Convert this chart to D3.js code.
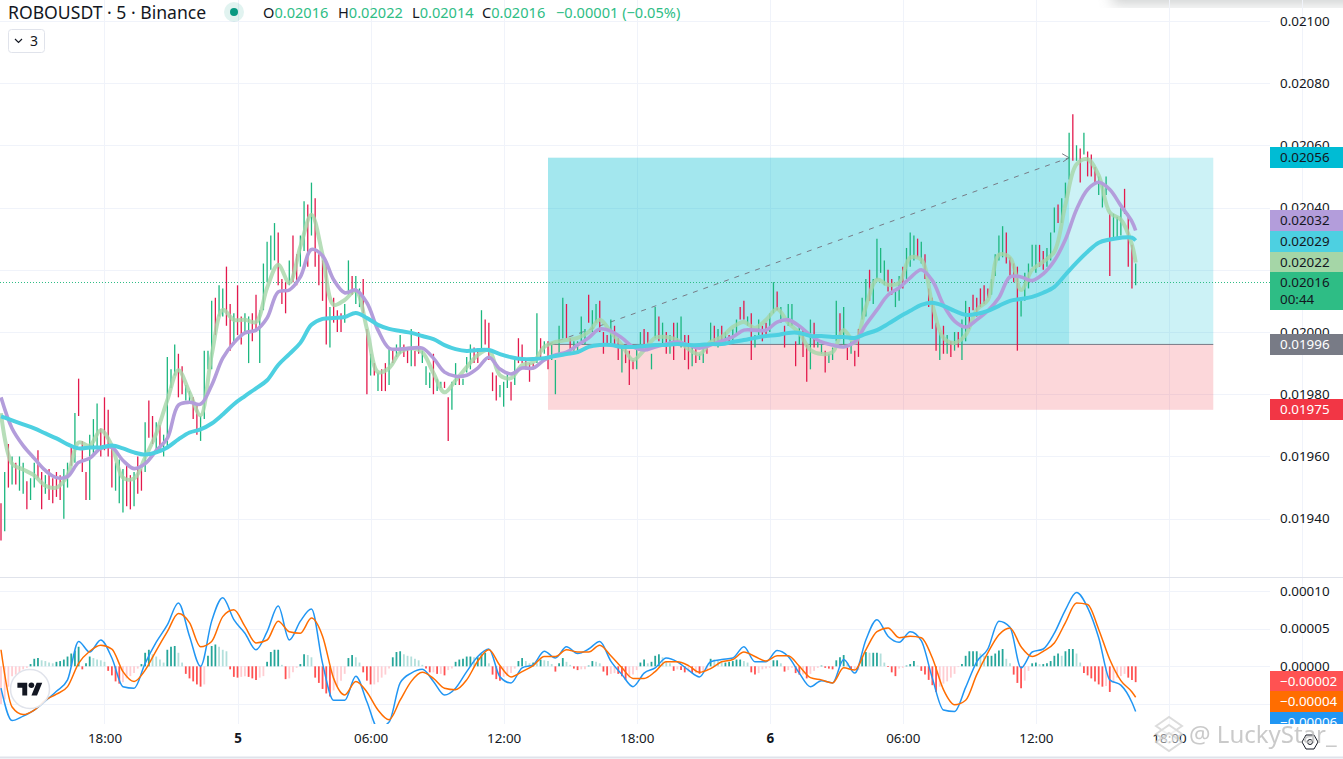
<!DOCTYPE html>
<html>
<head>
<meta charset="utf-8">
<script src="https://cdn.jsdelivr.net/npm/d3@7"></script>
<style>
html,body{margin:0;padding:0;background:#fff;overflow:hidden}
text{font-family:"Noto Sans","Liberation Sans",sans-serif}
</style>
</head>
<body>
<script>
// prices are kept in ticks of 0.00001, macd values too
// one candle every 2 bars
var highs = [
1945,1955,1964,1960,1958,1960,1958,1952,1953,1958,
1962,1955,1954,1956,1953,1955,1954,1956,1958,1963,
1974,1985,1965,1955,1967,1972,1977,1969,1979,1975,
1964,1958,1959,1956,1958,1954,1955,1960,1956,1971,
1978,1973,1971,1970,1967,1992,1988,1996,1993,1989,
1983,1981,1979,1977,1973,1994,1994,2010,2011,2015,
2014,2021,2009,2006,2015,2005,2006,2005,2006,2012,
2007,2022,2029,2031,2035,2032,2017,2016,2023,2031,
2025,2031,2042,2041,2048,2043,2025,2023,2022,2008,
2011,2007,2006,2009,2023,2018,2018,2014,2017,2001,
1993,1990,1987,1988,1990,1995,1994,1996,1999,1996,
1995,2001,1994,2000,1994,1989,1987,1993,1985,1984,
1984,1979,1984,1990,1986,1985,1992,1996,1995,1994,
2007,2004,2003,1987,1986,1983,1984,1987,1984,1992,
1998,1996,1991,1990,1990,2006,1998,1997,1997,1996,
1991,2002,2011,2009,1998,1997,1997,2005,2001,2012,
2007,2009,2010,2000,1999,2004,2002,1998,1995,1995,
1994,1991,1995,2000,2001,2000,1993,2008,2005,2003,
2000,1999,2003,2003,2005,1999,1999,1995,1995,1993,
1995,1996,2003,2002,2001,2002,2000,1999,2001,2004,
2008,2010,2005,2006,1999,2004,2002,2003,2006,2016,
2013,2008,2002,2009,2009,1997,2002,2001,1996,2004,
2003,1997,1996,1994,1993,1995,2010,2006,2008,1996,
1997,1994,2001,2011,2017,2020,2017,2030,2027,2023,
2020,2017,2013,2018,2021,2027,2032,2031,2030,2029,
2025,2014,2011,2003,2000,2002,1999,1997,2000,2000,
2004,2010,2008,2012,2011,2014,2015,2014,2017,2025,
2031,2034,2032,2024,2022,2021,2011,2019,2022,2028,
2028,2028,2026,2027,2032,2040,2041,2043,2048,2064,
2070,2060,2059,2064,2058,2057,2053,2050,2048,2050,
2038,2038,2037,2040,2046,2038,2028,2022];
var lows = [
1933,1936,1950,1951,1951,1949,1948,1943,1946,1950,
1953,1943,1948,1946,1945,1947,1946,1940,1950,1957,
1958,1973,1955,1946,1946,1960,1963,1960,1962,1960,
1950,1949,1945,1942,1944,1943,1944,1948,1949,1955,
1966,1964,1961,1962,1960,1963,1982,1986,1979,1980,
1978,1977,1972,1967,1965,1972,1988,1988,1999,2005,
2005,2002,1994,1996,1999,1996,2000,1990,1997,2000,
1990,2007,2016,2020,2023,2015,2009,2006,2015,2016,
2015,2021,2026,2021,2031,2021,2015,2010,1996,1995,
2003,2000,2000,2003,2012,2012,2009,2008,2006,1980,
1986,1986,1981,1981,1981,1983,1990,1992,1993,1992,
1990,1989,1989,1993,1990,1983,1982,1980,1981,1982,
1982,1965,1975,1983,1983,1983,1987,1988,1990,1990,
1994,1996,1991,1981,1978,1979,1976,1982,1978,1983,
1990,1990,1988,1984,1988,1990,1992,1993,1988,1991,
1980,1993,1998,1998,1993,1994,1993,1997,1996,2003,
2000,2003,2000,1993,1996,1996,1996,1991,1987,1990,
1983,1988,1988,1994,1996,1995,1988,1998,1997,1996,
1993,1993,1991,1997,1995,1991,1988,1989,1990,1991,
1990,1993,1997,1996,1995,1996,1997,1996,1997,1999,
2004,2004,2002,1991,1995,1999,1997,1999,2000,2006,
2007,2003,1995,2002,2002,1989,1996,1992,1984,1988,
1995,1995,1993,1987,1990,1991,1997,1999,1996,1991,
1993,1989,1992,2004,2005,2010,2009,2017,2019,2015,
2013,2012,2008,2010,2014,2017,2021,2023,2024,2022,
2017,2008,2001,1994,1991,1993,1993,1992,1994,1995,
1991,1997,2001,2007,2005,2008,2009,2011,2012,2018,
2023,2024,2022,2018,2016,1994,2005,2010,2014,2021,
2019,2021,2020,2021,2023,2032,2035,2035,2043,2049,
2055,2055,2048,2057,2050,2050,2048,2044,2040,2044,
2018,2030,2030,2031,2038,2021,2014,2015];
var dirs = "RGRGRGGRGG"+"RRGRRRRGGR"+"GRRRGGGRRR"+"RGGGRRGRRG"+"RRGRGGGGRR"+"GGRRGGGGRG"+
	"GRRGRRGGRR"+"GGGGGRRRGR"+"RGGRGRRRRG"+"RRRGGRGGRR"+"GRGRRGRGGR"+"RGRRGGGRGG"+
	"RRGGRGGGRR"+"GRRRRGGGRG"+"RRRRRGRGRG"+"GGGRRGGGGR"+"GGRRRGRRGR"+"RRGGRRGGRG"+
	"RGRGGRRGRG"+"GRGRGRGRGG"+"RRGRGGRRGG"+"RGRGGRGRRG"+"RGGRGGGRGR"+"GRRGGRGGGG"+
	"RRGGRGGGRG"+"RRRRGRGRGR"+"GGRRRRRRGG"+"GGRRRRGGGG"+"GRRGGGRGGG"+"RGRGRRRGGG"+"RGGGRRRG";

// moving averages, one point every 6 bars, the last one is the live bar
var maFast = [
1973.9,1957.7,1955.8,1953.9,1950.6,1950,1953.9,1964.5,1963.5,1968.4,1963.5,1953.2,1952.9,1959.7,1967.4,1978.1,
1987.7,1980.6,1973.2,1992.6,2007.1,2003.9,2003.9,2003.2,2014.2,2021.6,2015.8,2027.4,2037.7,2024.8,2008.7,2010.3,
2013.2,2001,1987.1,1988.4,1993.5,1994.8,1993.5,1986.8,1980.6,1984.5,1988.7,1992.6,1994.2,1986.1,1985.2,1989.4,
1990.3,1995.2,1996.8,1997.4,1998.1,2000,2003.9,2000,1995.8,1991,1994.2,1998.1,1998.4,1997.4,
1994.5,1992.9,1996.8,1998.4,2001.6,2003.2,2001.3,2003.9,2007.4,2002.9,1999.7,1994.2,1992.9,1993.5,2000.6,1996.5,
2008.1,2016.8,2015.2,2015.8,2023.9,2023.2,2008.7,1998.1,1996.5,1999,2007.1,2010.3,2024.8,2023.9,2013.5,
2020,2022.6,2025.8,2041,2053.9,2055.5,2050.3,2038.4,2036.1,2028.1,2022.3];
var maMid = [
1979,1969,1963.5,1959.4,1955.5,1953.2,1953.5,1958.1,1959.4,1962.6,1962.9,1958.7,1956.1,1957.7,1961.9,1965.8,
1976.5,1977.4,1976.8,1982.9,1991.6,1996.5,1999.7,2000.6,2004.5,2012.9,2013.5,2017.7,2026.5,2024.5,2016.8,2012.6,
2013.5,2009.4,2000.6,1994.8,1994.5,1994.8,1994.8,1991.6,1987.1,1985.8,1986.1,1988.4,1991.9,1988.1,1986.5,1988.4,
1988.4,1991,1992.6,1993.5,1995.8,1998.1,2001,2000.3,1998.1,1995.2,1994.2,1995.2,1996.1,1996.8,
1995.8,1994.8,1995.8,1997.1,1998.4,2000.6,2000.6,2000.6,2003.2,2003.9,2001.9,1999,1996.8,1995.8,1995.2,1996.8,
2002.3,2007.1,2011.9,2014.2,2017.4,2020,2016.5,2008.7,2003.5,2001.6,2003.9,2006.8,2011,2017.7,2017.7,
2016.5,2018.7,2022.9,2029.7,2039.4,2045.8,2048.1,2045.8,2040.6,2035.5,2032.6];
var maSlow = [
1972.9,1971.6,1970.3,1969,1967.4,1965.8,1963.9,1962.6,1962.9,1962.9,1963.5,1962.6,1961.3,1960.6,1961.3,1962.9,
1965.5,1967.7,1968.7,1970.6,1973.5,1976.8,1979.4,1981.9,1984.5,1989.4,1992.9,1996.5,2002.3,2004.2,2004.5,2004.8,
2006.1,2004.5,2002.3,2001,2000.3,1999.7,1998.7,1997.7,1995.8,1994.5,1993.9,1994.2,1994.2,1992.9,1991.9,1991.3,
1991.3,1991.6,1992.3,1992.9,1993.5,1995.2,1995.8,1995.8,1995.2,1995.2,1995.5,1995.8,1995.8,1996.1,
1995.8,1995.8,1996.1,1996.1,1996.8,1997.4,1998.1,1998.7,1999,1999.7,1999.7,1998.7,1998.7,1998.4,1998.4,1998.1,
1999.4,2000.6,2002.6,2004.8,2006.8,2008.7,2009.4,2008.4,2006.8,2005.5,2005.8,2006.8,2008.4,2010,2010.6,
2011.3,2012.6,2014.5,2018.4,2022.3,2025.8,2028.7,2029.7,2030.3,2030.3,2029.4];

// macd lines on the same 6 bar steps
var macdLine = [
-2.9,-7.2,-6.6,-5.8,-4.6,-3.3,-1.8,3.3,1.9,3.5,1.1,-2.7,-2.9,.4,3.2,5.5,8.4,4,0,6,
9.1,6.2,4.4,2.2,4.6,8,3.5,6,7.6,.4,-4.5,-4.5,-1.3,-4.7,-8.2,-7.4,-2.2,-.9,-.4,-2,
-3.8,-2.9,-.7,1.3,2.3,-1.4,-2.2,-.2,.2,2,1.1,2.6,1.7,2.3,3.3,.7,-1.1,-2.7,-.9,-.2,
1.1,.6,-.5,-1.4,.6,.9,1.1,2.6,.6,.6,2.1,1.3,-.9,-2.7,-1.9,-2.2,.9,-.9,3.5,6.2,
4,3.2,4.6,3.4,-1.6,-5.8,-6,-2.8,.6,2.3,6,5.2,-.2,1.9,2.3,4.4,7.5,9.8,7.8,3.8,
-1.8,-2.5,-4.8,-6];
var signalLine = [
2.2,-5.4,-6.4,-5.8,-4.5,-3.7,-2.7,.4,2,2.8,2.3,-.7,-2,-.5,2.1,4.6,7,5.8,2.6,3.3,
6.6,7.5,5.3,3.1,3.5,6,4.6,4.4,6.4,4,-1.6,-3.8,-2,-3.4,-5.8,-7.1,-4.5,-2,-.8,-1.6,
-2.9,-3.1,-1.8,.7,2.2,.1,-1.4,-.7,.1,1.3,1.3,2.2,1.9,1.9,2.8,1.4,-.2,-1.6,-1.6,-.7,
.6,.6,.1,-.8,-.3,.6,.9,1.9,1.3,.7,1.4,1.4,0,-1.5,-1.8,-2.2,-.2,-.5,2.2,4.6,
5.1,3.8,4,3.8,1.1,-3.1,-5.1,-4.5,-1.1,1.8,4.2,5.1,2.6,1.3,2,3.1,5.8,8.4,8.2,4.9,
.9,-1.9,-3.4,-4.1];
// histogram, one bar every 2 bars
var histValues = [
-5,-4.4,-2.7,-1.3,-1.1,-.9,-.4,-.2,.3,1,
1.1,.8,.7,.5,.4,.6,.7,.9,1.3,1.7,
2.1,2.6,-.4,.4,1.3,1.1,.9,.8,.6,-.6,
-1.2,-2,-2.3,-2.1,-1.6,-1.3,-.9,-.3,.3,1.8,
2.2,1.6,1.3,.9,.5,2.2,2.6,2.7,1.8,.5,
-1,-1.6,-2,-2.4,-2.7,-2.4,1.4,2.7,2.9,2.6,
2.2,2,-.4,-1.4,-1.5,-1.4,-1.3,-1.4,-1.6,-1.8,
-1.5,-1.3,.6,1.9,2.2,2.2,.2,-1.7,-1.6,-.8,
-.2,.3,1.6,1.5,1.2,-1.5,-2.2,-3,-3.6,-4,
-3.2,-2.6,-1.9,-1,1.1,1.5,1.2,.5,-.8,-1.9,
-2.4,-2.4,-2.1,-1.5,-1.1,-.3,1.2,1.9,2,1.6,
1.4,1.3,1,.8,.2,-.3,-.8,-.8,-1,-1,
-1.2,-.5,-.3,.6,.9,1,1.3,1.3,1.2,1.2,
1.6,1.8,.4,-1.1,-1.7,-1.9,-1.4,-1.3,-.9,-.3,
.7,1.1,.7,.4,.5,.4,.9,.8,.7,.3,
-.7,.4,1.1,.6,.2,-.3,-.5,-.4,-.4,.1,
.7,.6,.4,-.7,-1.2,-1,-.9,-1,-1.3,-1.8,
-1.5,-1.1,-.5,.5,.9,.4,.6,1.4,1.6,1.2,
.7,.4,-.6,-.4,-.5,-.8,-.7,-.9,-.9,-1,
-.7,-.4,1,.9,.7,.5,.5,.6,.7,.9,
.9,.7,.5,-.8,-1.1,-.9,-.4,-.3,-.2,.8,
.8,.4,-.7,-.5,-.2,-.9,-1.1,-1.1,-1.6,-1,
-.6,-.2,.1,-.2,-.3,-.4,.8,1.2,1.5,.5,
-.5,-.5,-.5,1.4,1.9,1.8,1.8,1.8,1.7,.5,
-.1,-.8,-1.3,-.3,-.2,.1,.3,.7,.1,-.6,
-1.1,-1.8,-2.5,-3.4,-2.7,-2.3,-2,-1.5,-1,-.1,
.3,1.4,2,2,2,1.7,1.4,1.4,1.4,1.7,
2.1,2.3,1,.4,-1.1,-2.2,-2.9,-1.9,-.6,.4,
.5,.3,.3,.4,.7,1.4,1.7,1.4,2,2.3,
2.3,1.7,.5,-.9,-1.2,-1.6,-2,-2.4,-2.7,-2.6,
-3.4,-2.2,-1.5,-1.3,-1,-1.5,-1.8,-2.1];

var priceTicks = [1940,1960,1980,2000,2020,2040,2060,2080,2100];
// 0.02020 and -0.00005 sit fully under the tags
var priceLabels = [1940,1960,1980,2000,2040,2060,2080,2100];
var macdTicks = [-5,0,5,10];
var macdLabels = [0,5,10];
var timeTicks = [56,128,200,272,344,416,488,560,632,704];
var timeLabels = ["18:00","5","06:00","12:00","18:00","6","06:00","12:00","18:00",""];

// long position tool
var entryPrice = 1996, targetPrice = 2056, stopPrice = 1975;
var toolStartBar = 296, toolHitBar = 578, toolEndBar = 656;
var lastPrice = 2016;

var legendParts = [["O","0.02016"],["H","0.02022"],["L","0.02014"],["C","0.02016"]];
var legendChange = "\u22120.00001 (\u22120.05%)";

var WIDTH = 1343, HEIGHT = 759, AXIS_X = 1270, MACD_BOTTOM = 724;
var GREEN = "#1cb77f", RED = "#e3194c", GRID = "#f0f3fa", TEXT = "#131722";

var svg = d3.select("body").append("svg")
	.attr("width", WIDTH)
	.attr("height", HEIGHT)
	.style("display", "block");

var x = d3.scaleLinear().domain([0, 726.2]).range([1, WIDTH]);
var y = d3.scaleLinear().domain([1940, 2100]).range([518.7, 20.8]);
var yMacd = d3.scaleLinear().domain([-5, 10]).range([704, 591]);

var defs = svg.append("defs");
defs.append("clipPath").attr("id", "priceClip").append("rect")
	.attr("width", AXIS_X).attr("height", 577);
defs.append("clipPath").attr("id", "macdClip").append("rect")
	.attr("y", 578).attr("width", AXIS_X).attr("height", MACD_BOTTOM - 578);
defs.append("filter").attr("id", "blur").append("feGaussianBlur").attr("stdDeviation", 7);

function maBar(i) { return Math.min(i * 6, 614); }

// shadow of a popup at the top right edge
svg.append("rect").attr("x", 1112).attr("y", -30).attr("width", 300).attr("height", 34)
	.attr("fill", "#8a8f8f").attr("opacity", 0.42).attr("filter", "url(#blur)");

// grid
var grid = svg.append("g").attr("stroke", GRID).attr("stroke-width", 1);
grid.selectAll(".v").data(timeTicks).enter().append("line")
	.attr("x1", function(d) { return Math.round(x(d)) + 0.5; })
	.attr("x2", function(d) { return Math.round(x(d)) + 0.5; })
	.attr("y1", 0).attr("y2", MACD_BOTTOM);
grid.selectAll(".h").data(priceTicks).enter().append("line")
	.attr("x1", 0).attr("x2", AXIS_X)
	.attr("y1", function(d) { return Math.round(y(d)) + 0.5; })
	.attr("y2", function(d) { return Math.round(y(d)) + 0.5; });
grid.selectAll(".m").data(macdTicks).enter().append("line")
	.attr("x1", 0).attr("x2", AXIS_X)
	.attr("y1", function(d) { return Math.round(yMacd(d)) + 0.5; })
	.attr("y2", function(d) { return Math.round(yMacd(d)) + 0.5; });

// pane borders
svg.append("line").attr("x1", 0).attr("x2", WIDTH).attr("y1", 577.5).attr("y2", 577.5)
	.attr("stroke", "#e0e3eb");
svg.append("line").attr("x1", 0).attr("x2", WIDTH).attr("y1", 757.5).attr("y2", 757.5)
	.attr("stroke", "#e0e3eb").attr("stroke-width", 2);

// position tool
var tool = svg.append("g");
tool.append("rect")
	.attr("x", x(toolStartBar)).attr("width", x(toolEndBar) - x(toolStartBar))
	.attr("y", y(targetPrice)).attr("height", y(entryPrice) - y(targetPrice))
	.attr("fill", "#00bcd4").attr("fill-opacity", 0.2);
tool.append("rect")
	.attr("x", x(toolStartBar)).attr("width", x(toolHitBar) - x(toolStartBar))
	.attr("y", y(targetPrice)).attr("height", y(entryPrice) - y(targetPrice))
	.attr("fill", "#00bcd4").attr("fill-opacity", 0.2);
tool.append("rect")
	.attr("x", x(toolStartBar)).attr("width", x(toolEndBar) - x(toolStartBar))
	.attr("y", y(entryPrice)).attr("height", y(stopPrice) - y(entryPrice))
	.attr("fill", "#f23645").attr("fill-opacity", 0.2);
tool.append("line")
	.attr("x1", x(toolStartBar)).attr("x2", x(toolEndBar))
	.attr("y1", y(entryPrice)).attr("y2", y(entryPrice))
	.attr("stroke", "#787b86");
tool.append("line")
	.attr("x1", x(toolStartBar)).attr("x2", x(toolHitBar))
	.attr("y1", y(entryPrice)).attr("y2", y(targetPrice))
	.attr("stroke", "#787b86").attr("stroke-dasharray", "5 6");
tool.append("path")
	.attr("d", "M" + (x(toolHitBar) - 7) + " " + (y(targetPrice) - 4) + " L" + x(toolHitBar) + " " + y(targetPrice) +
		" L" + (x(toolHitBar) - 6) + " " + (y(targetPrice) + 4))
	.attr("fill", "none").attr("stroke", "#787b86");

// last price line
svg.append("line")
	.attr("x1", 0).attr("x2", AXIS_X)
	.attr("y1", Math.round(y(lastPrice)) + 0.5).attr("y2", Math.round(y(lastPrice)) + 0.5)
	.attr("stroke", "#2ebd85").attr("stroke-dasharray", "1 2");

var price = svg.append("g").attr("clip-path", "url(#priceClip)");

var maPath = d3.line()
	.x(function(d, i) { return x(maBar(i)); })
	.y(function(d) { return y(d); })
	.curve(d3.curveCatmullRom.alpha(0.5));

// candles, at this zoom only the wicks can be seen
price.selectAll(".candle").data(highs).enter().append("line")
	.attr("class", "candle")
	.attr("x1", function(d, i) { return x(i * 2); })
	.attr("x2", function(d, i) { return x(i * 2); })
	.attr("y1", function(d) { return y(d); })
	.attr("y2", function(d, i) { return y(lows[i]); })
	.attr("stroke", function(d, i) { return dirs[i] == "G" ? GREEN : RED; })
	.attr("stroke-width", 1.3);

price.append("path").attr("d", maPath(maFast)).attr("fill", "none").attr("stroke", "#a5d6a7").attr("stroke-width", 4).attr("stroke-opacity", 0.8);
price.append("path").attr("d", maPath(maMid)).attr("fill", "none").attr("stroke", "#b39ddb").attr("stroke-width", 3.6);
price.append("path").attr("d", maPath(maSlow)).attr("fill", "none").attr("stroke", "#4dd0e1").attr("stroke-width", 4);

// macd pane
var macd = svg.append("g").attr("clip-path", "url(#macdClip)");
macd.selectAll(".hist").data(histValues).enter().append("line")
	.attr("class", "hist")
	.attr("x1", function(d, i) { return x(i * 2); })
	.attr("x2", function(d, i) { return x(i * 2); })
	.attr("y1", yMacd(0))
	.attr("y2", function(d) { return yMacd(d); })
	.attr("stroke-width", 1.8)
	.attr("stroke", function(d, i) {
		var prev = i > 0 ? histValues[i - 1] : d;
		if (d >= 0) return d >= prev ? "#26a69a" : "#b2dfdb";
		return d >= prev ? "#ffcdd2" : "#ff5252";
	});

var macdPath = d3.line()
	.x(function(d, i) { return x(maBar(i)); })
	.y(function(d) { return yMacd(d); })
	.curve(d3.curveMonotoneX);
macd.append("path").attr("d", macdPath(macdLine)).attr("fill", "none").attr("stroke", "#2196f3").attr("stroke-width", 1.5);
macd.append("path").attr("d", macdPath(signalLine)).attr("fill", "none").attr("stroke", "#ff6d00").attr("stroke-width", 1.5);

// axes
var priceAxis = svg.append("g").attr("transform", "translate(" + AXIS_X + ",0)")
	.call(d3.axisRight(y).tickValues(priceLabels).tickSize(0).tickPadding(10)
		.tickFormat(function(d) { return (d / 100000).toFixed(5); }));
var macdAxis = svg.append("g").attr("transform", "translate(" + AXIS_X + ",0)")
	.call(d3.axisRight(yMacd).tickValues(macdLabels).tickSize(0).tickPadding(10)
		.tickFormat(function(d) { return (d / 100000).toFixed(5); }));
var timeAxis = svg.append("g").attr("transform", "translate(0,733)")
	.call(d3.axisBottom(x).tickValues(timeTicks).tickSize(0).tickPadding(0)
		.tickFormat(function(d, i) { return timeLabels[i]; }));
[priceAxis, macdAxis, timeAxis].forEach(function(a) {
	a.select(".domain").remove();
	a.selectAll("text").attr("fill", TEXT).attr("font-size", 13.4)
		.attr("font-family", '"Noto Sans","Liberation Sans",sans-serif');
});
timeAxis.selectAll("text").attr("font-weight", function(d, i) {
	return timeLabels[i].length == 1 ? "700" : "400";
});

// price tags on the axis
function tag(top, h, fill, label, color, sub) {
	svg.append("rect").attr("x", AXIS_X).attr("y", top).attr("width", WIDTH - AXIS_X).attr("height", h).attr("fill", fill);
	svg.append("text").attr("x", AXIS_X + 10).attr("y", top + 15).attr("font-size", 13.4).attr("fill", color).text(label);
	if (sub) svg.append("text").attr("x", AXIS_X + 10).attr("y", top + 32).attr("font-size", 13.4).attr("fill", color).text(sub);
}
tag(147, 21, "#00bcd4", (targetPrice / 100000).toFixed(5), TEXT);
tag(210, 21, "#b39ddb", "0.02032", TEXT);
tag(231, 21, "#4dd0e1", "0.02029", TEXT);
tag(252, 20, "#a5d6a7", "0.02022", TEXT);
tag(272, 38, "#2ebd85", (lastPrice / 100000).toFixed(5), TEXT, "00:44");
tag(334, 21, "#787b86", (entryPrice / 100000).toFixed(5), "#fff");
tag(399, 21, "#f23645", (stopPrice / 100000).toFixed(5), "#fff");
tag(671, 20, "#ff5252", "\u22120.00002", "#fff");
tag(691, 21, "#ff6d00", "\u22120.00004", "#fff");
var bottomTag = svg.append("g").attr("clip-path", "url(#tagClip)");
defs.append("clipPath").attr("id", "tagClip").append("rect")
	.attr("x", AXIS_X).attr("y", 712).attr("width", WIDTH - AXIS_X).attr("height", MACD_BOTTOM - 712);
bottomTag.append("rect").attr("x", AXIS_X).attr("y", 712).attr("width", WIDTH - AXIS_X).attr("height", 21).attr("fill", "#2196f3");
bottomTag.append("text").attr("x", AXIS_X + 10).attr("y", 727).attr("font-size", 13.4).attr("fill", "#fff").text("\u22120.00006");

// legend
svg.append("text").attr("x", 8).attr("y", 19).attr("font-size", 17.6).attr("fill", TEXT).text("ROBOUSDT \u00b7 5 \u00b7 Binance");
svg.append("circle").attr("cx", 234).attr("cy", 12).attr("r", 10).attr("fill", "#089981").attr("opacity", 0.12);
svg.append("circle").attr("cx", 234).attr("cy", 12).attr("r", 4).attr("fill", "#089981");
var legendX = [263, 338, 412, 482];
var legend = svg.selectAll(".legend").data(legendParts).enter().append("text")
	.attr("x", function(d, i) { return legendX[i]; })
	.attr("y", 18).attr("font-size", 14.6);
legend.append("tspan").attr("fill", TEXT).text(function(d) { return d[0]; });
legend.append("tspan").attr("fill", "#2ebd85").text(function(d) { return d[1]; });
svg.append("text").attr("x", 556).attr("y", 18).attr("font-size", 14.6).attr("fill", "#2ebd85").text(legendChange);

svg.append("rect").attr("x", 8.5).attr("y", 29.5).attr("width", 36).attr("height", 23).attr("rx", 3)
	.attr("fill", "#fff").attr("stroke", "#e0e3eb");
svg.append("path").attr("d", "M15 39 L18.5 42.5 L22 39").attr("fill", "none").attr("stroke", TEXT).attr("stroke-width", 1.2);
svg.append("text").attr("x", 30).attr("y", 46).attr("font-size", 14).attr("fill", TEXT).text("3");

// tradingview logo
var logo = svg.append("g").attr("transform", "translate(30,689)");
logo.append("circle").attr("r", 19.5).attr("fill", "#fff").attr("fill-opacity", 0.9).attr("stroke", "#e0e3eb").attr("stroke-width", 1.5);
logo.append("path")
	.attr("transform", "translate(-12.6,-9) scale(0.7)")
	.attr("d", "M14 22H7V11H0V4h14v18zM28 22h-8l7.5-18h8L28 22z")
	.attr("fill", TEXT);
logo.append("circle").attr("cx", -12.6 + 20 * 0.7).attr("cy", -9 + 7.5 * 0.7).attr("r", 2.8).attr("fill", TEXT);

// settings icon
var gear = svg.append("g").attr("transform", "translate(1310,742)").attr("fill", "none").attr("stroke", TEXT);
gear.append("path").attr("d", "M-8 0 L-4 -7 L4 -7 L8 0 L4 7 L-4 7 Z");
gear.append("circle").attr("r", 2.5);

// watermark
var wm = svg.append("g").attr("opacity", 0.8);
wm.selectAll("path").data([0, 8, 16]).enter().append("path")
	.attr("d", function(d) { return "M1156 " + (726 + d) + " L1169 " + (717 + d) + " L1182 " + (726 + d) + " L1169 " + (735 + d) + " Z"; })
	.attr("fill", "#fff").attr("fill-opacity", 0.6).attr("stroke", "#d4d4d4").attr("stroke-width", 2);
wm.append("text").attr("x", 1189).attr("y", 743).attr("font-size", 24).attr("fill", "#bdbdbd").text("@ LuckyStar_");
</script>
</body>
</html>
